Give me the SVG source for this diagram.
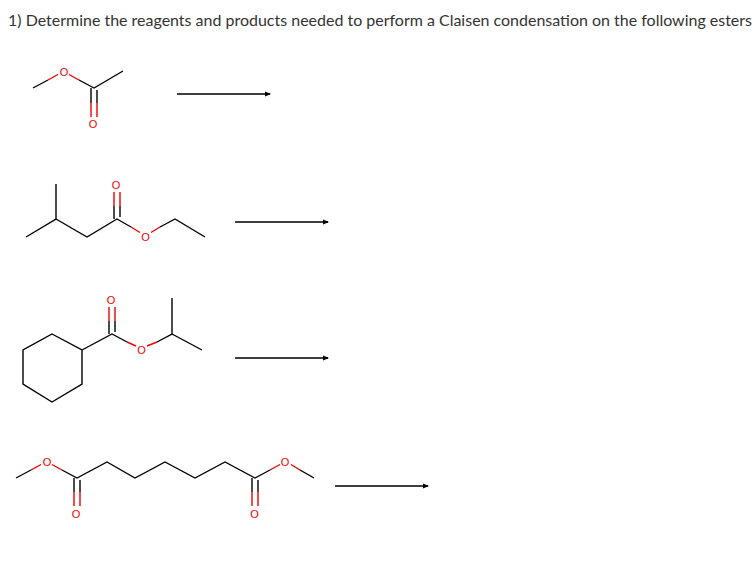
<svg xmlns="http://www.w3.org/2000/svg" width="754" height="565" viewBox="0 0 754 565">
<style>
.b{stroke:#000;stroke-width:1.4;fill:none}
.r{stroke:#e00;stroke-width:1.4;fill:none}
.o{font-family:"Liberation Sans",Arial,sans-serif;font-size:11px;fill:#e00;text-anchor:middle}
.a{stroke:#000;stroke-width:1.6}
.t{font-family:Lato,"Liberation Sans",sans-serif;font-size:16px;fill:#333}
</style>
<defs><marker id="ah" markerWidth="6" markerHeight="6" refX="5" refY="3" orient="auto" markerUnits="userSpaceOnUse"><path d="M0,0.5 L6,3 L0,5.5z" fill="#000"/></marker></defs>
<rect width="754" height="565" fill="#fff"/>
<text class="t" x="8" y="26" textLength="744" lengthAdjust="spacingAndGlyphs">1) Determine the reagents and products needed to perform a Claisen condensation on the following esters</text>
<g id="m1">
<path class="b" d="M33,88 L48,80"/><path class="r" d="M48,80 L58,74.5 M69,74.5 L79,80"/><path class="b" d="M79,80 L94,88 L123,71"/>
<path class="b" d="M91,88 L91,103 M97,90 L97,103"/><path class="r" d="M91,103 L91,117 M97,103 L97,117"/>
<text class="o" x="93" y="128">O</text><text class="o" x="64" y="76">O</text>
</g>
<g id="m2">
<path class="b" d="M26,237 L56,219 L56,184 M56,219 L87,237 L117,219 L131,227"/><path class="r" d="M131,227 L140,232.5 M151,232.5 L160,227"/><path class="b" d="M160,227 L175,219 L205,237"/>
<path class="b" d="M114,219 L114,206 M120,217 L120,206"/><path class="r" d="M114,206 L114,192 M120,206 L120,192"/>
<text class="o" x="116" y="189">O</text><text class="o" x="145.5" y="241">O</text>
</g>
<g id="m3">
<path class="b" d="M52,334 L82,350 L82,384 L52,402 L23,384 L23,350 Z M82,350 L112,334 L127,342"/><path class="r" d="M127,342 L136,346 M147,346 L157,342"/><path class="b" d="M157,342 L172,334 L172,298 M172,334 L202,350"/>
<path class="b" d="M109,334 L109,321 M115,332 L115,321"/><path class="r" d="M109,321 L109,307 M115,321 L115,307"/>
<text class="o" x="111" y="304">O</text><text class="o" x="141.5" y="354">O</text>
</g>
<g id="m4">
<path class="b" d="M16,478 L31,470"/><path class="r" d="M31,470 L41,464.5 M52,464.5 L62,470"/><path class="b" d="M62,470 L77,478 L107,462 L135,478 L165,462 L195,478 L225,462 L255,478 L270,470"/><path class="r" d="M270,470 L280,464.5 M291,464.5 L300,470"/><path class="b" d="M300,470 L314,478"/>
<path class="b" d="M74,478 L74,492 M80,480 L80,492"/><path class="r" d="M74,492 L74,506 M80,492 L80,506"/>
<path class="b" d="M252,478 L252,492 M258,480 L258,492"/><path class="r" d="M252,492 L252,506 M258,492 L258,506"/>
<text class="o" x="47" y="466">O</text><text class="o" x="76" y="518">O</text><text class="o" x="285" y="466">O</text><text class="o" x="254.5" y="518">O</text>
</g>
<g id="arrows">
<line class="a" x1="177" y1="94" x2="270" y2="94" marker-end="url(#ah)"/>
<line class="a" x1="235" y1="222" x2="328" y2="222" marker-end="url(#ah)"/>
<line class="a" x1="235" y1="358" x2="328" y2="358" marker-end="url(#ah)"/>
<line class="a" x1="335" y1="486" x2="428" y2="486" marker-end="url(#ah)"/>
</g>
</svg>
